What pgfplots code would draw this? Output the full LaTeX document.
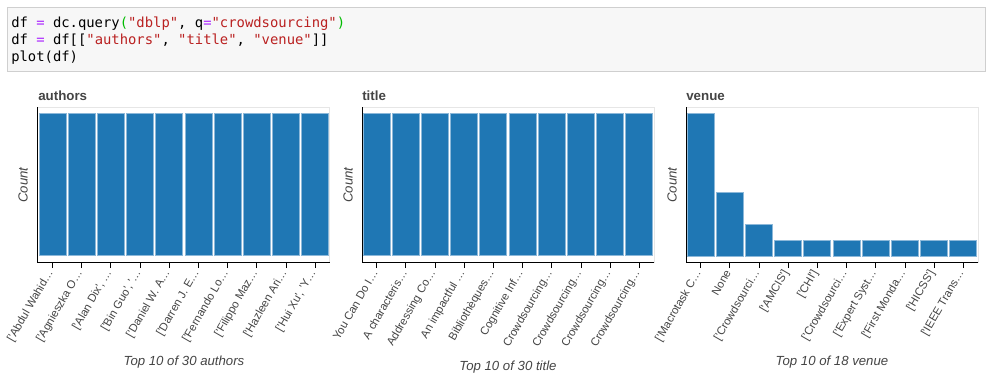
\documentclass[border=0pt]{standalone}
\usepackage{pgfplots}
\pgfplotsset{compat=1.18}
\usepackage{fontspec}
\setmainfont{Liberation Sans}[Ligatures=TeXOff]
\newfontfamily\codefont{DejaVu Sans Mono}[Ligatures=TeXOff]
\definecolor{bar}{HTML}{1F77B4}
\definecolor{edge}{HTML}{8CB8D9}
\definecolor{txt}{HTML}{444444}
\definecolor{frame}{HTML}{E6E6E6}
\definecolor{str}{HTML}{BA2121}
\definecolor{op}{HTML}{AA22FF}
\definecolor{brk}{HTML}{00BB00}
\definecolor{cellbg}{HTML}{F7F7F7}
\definecolor{cellbd}{HTML}{CFCFCF}
\pgfplotsset{
 panel/.style={
  scale only axis, width=219pt, height=116.25pt, anchor=south west,
  xmin=-0.5, xmax=9.5, xtick={0,...,9},
  ytick=\empty, axis line style={frame, line width=0.75pt},
  tick align=outside, xtick pos=left, major tick length=4.5pt,
  every tick/.style={black, line width=0.75pt},
  x tick label style={rotate=60, anchor=east, font=\fontsize{8.5}{10}\selectfont, text=txt, inner sep=2.5pt},
  clip=false,
  ybar, bar width=0.93,
 },
 barst/.style={fill=bar, draw=edge, line width=0.75pt},
}
\begin{document}
\begin{tikzpicture}
\begin{scope}[x=0.75pt,y=0.75pt]
\path[use as bounding box] (0,0) rectangle (991,390);
% code cell
\draw[cellbd, fill=cellbg, line width=0.75pt] (7,382) rectangle (985,318);
\begin{scope}[every node/.style={anchor=base west, inner sep=0, font=\codefont\fontsize{10.4}{12}\selectfont}]
\node at (11,362.5) {df \textcolor{op}{=} dc.query\textcolor{brk}{(}\textcolor{str}{"dblp"}, q\textcolor{op}{=}\textcolor{str}{"crowdsourcing"}\textcolor{brk}{)}};
\node at (11,345.5) {df \textcolor{op}{=} df[[\textcolor{str}{"authors"}, \textcolor{str}{"title"}, \textcolor{str}{"venue"}]]};
\node at (11,328.5) {plot(df)};
\end{scope}
% titles
\begin{scope}[every node/.style={anchor=base west, inner sep=0, text=txt, font=\bfseries\fontsize{10}{12}\selectfont}]
\node at (38,290) {authors};
\node at (362,290) {title};
\node at (686,290) {venue};
\end{scope}
\begin{scope}[every node/.style={inner sep=0, text=txt, font=\itshape\fontsize{9.9}{12}\selectfont}]
\node[rotate=90] at (23,205) {Count};
\node[rotate=90] at (348,205) {Count};
\node[rotate=90] at (672,205) {Count};
\node at (184,28) {Top 10 of 30 authors};
\node at (508,23) {Top 10 of 30 title};
\node at (832,28) {Top 10 of 18 venue};
\end{scope}
\end{scope}
% panel 1
\begin{axis}[panel, at={(28.5pt,96pt)}, ymin=-0.0423, ymax=1.049,
  xticklabels={{['Abdul Wahid…},{['Agnieszka O…},{['Alan Dix', …},{['Bin Guo', '…},{['Daniel W. A…},{['Darren J. E…},{['Fernando Lo…},{['Filippo Maz…},{['Hazleen Ari…},{['Hui Xu', 'Y…}}]
\addplot[barst] coordinates {(0,1) (1,1) (2,1) (3,1) (4,1) (5,1) (6,1) (7,1) (8,1) (9,1)};
\draw[black, line width=0.75pt] (rel axis cs:0,1) -- (rel axis cs:0,0) -- (rel axis cs:1,0);
\end{axis}
% panel 2
\begin{axis}[panel, at={(271.5pt,96pt)}, ymin=-0.0423, ymax=1.049,
  xticklabels={{You Can Do I…},{A characteris…},{Addressing Co…},{An impactful …},{Bibliothèques…},{Cognitive Inf…},{Crowdsourcing…},{Crowdsourcing…},{Crowdsourcing…},{Crowdsourcing…}}]
\addplot[barst] coordinates {(0,1) (1,1) (2,1) (3,1) (4,1) (5,1) (6,1) (7,1) (8,1) (9,1)};
\draw[black, line width=0.75pt] (rel axis cs:0,1) -- (rel axis cs:0,0) -- (rel axis cs:1,0);
\end{axis}
% panel 3
\begin{axis}[panel, at={(514.5pt,96pt)}, ymin=-0.38, ymax=9.44,
  xticklabels={{['Macrotask C…},{None},{['Crowdsourci…},{['AMCIS']},{['CHI']},{['Crowdsourci…},{['Expert Syst…},{['First Monda…},{['HICSS']},{['IEEE Trans…}}]
\addplot[barst] coordinates {(0,9) (1,4) (2,2) (3,1) (4,1) (5,1) (6,1) (7,1) (8,1) (9,1)};
\draw[black, line width=0.75pt] (rel axis cs:0,1) -- (rel axis cs:0,0) -- (rel axis cs:1,0);
\end{axis}
\end{tikzpicture}
\end{document}
